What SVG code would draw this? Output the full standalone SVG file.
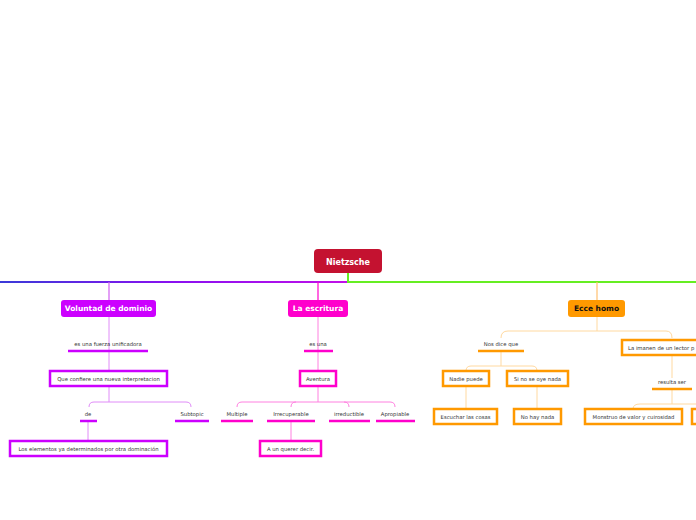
<svg xmlns="http://www.w3.org/2000/svg" width="696" height="520" viewBox="0 0 696 520">
<defs>
<linearGradient id="lg" x1="0" x2="348" y1="0" y2="0" gradientUnits="userSpaceOnUse"><stop offset="0" stop-color="#3a3ad8"/><stop offset="0.5" stop-color="#8a10f0"/><stop offset="1" stop-color="#c010e8"/></linearGradient>
</defs>
<style>
text{font-family:Verdana,"DejaVu Sans",sans-serif;text-anchor:middle;fill:#333;font-size:5.3px}
.t{font-weight:bold;fill:#fff;font-size:7.5px}
.bv{fill:#fff;stroke:#cc00ff;stroke-width:2.5}
.be{fill:#fff;stroke:#ff00cc;stroke-width:2.5}
.bo{fill:#fff;stroke:#ff9900;stroke-width:2.5}
.lv{fill:none;stroke:#e08cf8;stroke-width:1}
.le{fill:none;stroke:#ff80e0;stroke-width:1}
.lo{fill:none;stroke:#ffd9a0;stroke-width:1}
.uv{stroke:#cc00ff;stroke-width:2.5}
.ue{stroke:#ff00cc;stroke-width:2.5}
.uo{stroke:#ff9900;stroke-width:2.5}
</style>
<g id="connectors">
<path d="M0 282H348" stroke="url(#lg)" stroke-width="2" fill="none"/>
<path d="M348 273V282H696" stroke="#66ee22" stroke-width="2" fill="none"/>
<path d="M109 282V300" stroke="#d060f0" stroke-width="1.2"/>
<path d="M318 282V300" stroke="#ff00cc" stroke-width="1.2"/>
<path d="M597 282V300" stroke="#ffc070" stroke-width="1.2"/>
<path class="lv" d="M109 317V351M109 351V371M109 386V402M89 407Q89 402 94 402H186Q191 402 191 407M88 421V441"/>
<path class="le" d="M318 317V371M318 386V402M237 407Q237 402 242 402H390Q395 402 395 407M291 407Q291 402 296 402M349 407Q349 402 344 402M291 421V441"/>
<path class="lo" d="M597 317V331M501 338Q501 331 508 331H666Q672 331 672 338M501 351V366M466 371Q466 366 471 366H532Q537 366 537 371M466 386V409M537 386V409M672 355V378M672 389V404M633 409Q633 404 640 404H696"/>
</g>
<g id="n-nietzsche"><rect x="314" y="249" width="68" height="24" rx="4" fill="#c41230"/><text class="t" x="348" y="264.5" style="font-size:8px">Nietzsche</text></g>
<g id="n-voluntad"><rect x="61" y="300" width="95" height="17" rx="3" fill="#cc00ff"/><text class="t" x="108.5" y="311">Voluntad de dominio</text></g>
<g id="n-escritura"><rect x="288" y="300" width="60" height="17" rx="3" fill="#ff00cc"/><text class="t" x="318" y="311">La escritura</text></g>
<g id="n-ecce"><rect x="568" y="300" width="57" height="17" rx="3" fill="#ff9900"/><text class="t" x="596.5" y="311" style="fill:#111">Ecce homo</text></g>
<g id="n-fuerza"><text x="108" y="346">es una fuerza unificadora</text><line class="uv" x1="68" y1="351" x2="148" y2="351"/></g>
<g id="n-confiere"><rect class="bv" x="50" y="371" width="117" height="15"/><text x="108.5" y="380.5">Que confiere una nueva interpretacion</text></g>
<g id="n-de"><text x="88" y="416">de</text><line class="uv" x1="80" y1="421" x2="97" y2="421"/></g>
<g id="n-subtopic"><text x="192" y="416">Subtopic</text><line class="uv" x1="175" y1="421" x2="209" y2="421"/></g>
<g id="n-elementos"><rect class="bv" x="10" y="441" width="157" height="15"/><text x="88.5" y="450.5">Los elementos ya determinados por otra dominación</text></g>
<g id="n-esuna"><text x="318" y="346">es una</text><line class="ue" x1="304" y1="351" x2="333" y2="351"/></g>
<g id="n-aventura"><rect class="be" x="300" y="371" width="36" height="15"/><text x="318" y="380.5">Aventura</text></g>
<g id="n-multiple"><text x="237" y="416">Multiple</text><line class="ue" x1="221" y1="421" x2="253" y2="421"/></g>
<g id="n-irrec"><text x="291" y="416">Irrecuperable</text><line class="ue" x1="267" y1="421" x2="315" y2="421"/></g>
<g id="n-irred"><text x="349" y="416">irreductible</text><line class="ue" x1="329" y1="421" x2="370" y2="421"/></g>
<g id="n-aprop"><text x="395" y="416">Apropiable</text><line class="ue" x1="376" y1="421" x2="415" y2="421"/></g>
<g id="n-querer"><rect class="be" x="260" y="441" width="61" height="15"/><text x="290.5" y="450.5">A un querer decir.</text></g>
<g id="n-nosdice"><text x="501" y="346">Nos dice que</text><line class="uo" x1="478" y1="351" x2="524" y2="351"/></g>
<g id="n-imanen"><rect class="bo" x="622" y="340" width="80" height="15"/><text x="628" y="349.5" style="text-anchor:start">La imanen de un lector p</text></g>
<g id="n-nadie"><rect class="bo" x="443" y="371" width="46" height="15"/><text x="466" y="380.5">Nadie puede</text></g>
<g id="n-sino"><rect class="bo" x="507" y="371" width="61" height="15"/><text x="537.5" y="380.5">Si no se oye nada</text></g>
<g id="n-escuchar"><rect class="bo" x="434" y="409" width="63" height="15"/><text x="465.5" y="418.5">Escuchar las cosas</text></g>
<g id="n-nohay"><rect class="bo" x="514" y="409" width="47" height="15"/><text x="537.5" y="418.5">No hay nada</text></g>
<g id="n-resulta"><text x="672" y="384">resulta ser</text><line class="uo" x1="652" y1="389" x2="692" y2="389"/></g>
<g id="n-monstruo"><rect class="bo" x="585" y="409" width="97" height="15"/><text x="633.5" y="418.5">Monstruo de valor y cuirosidad</text></g>
<g id="n-clip"><rect class="bo" x="692" y="409" width="20" height="15"/></g>
</svg>
